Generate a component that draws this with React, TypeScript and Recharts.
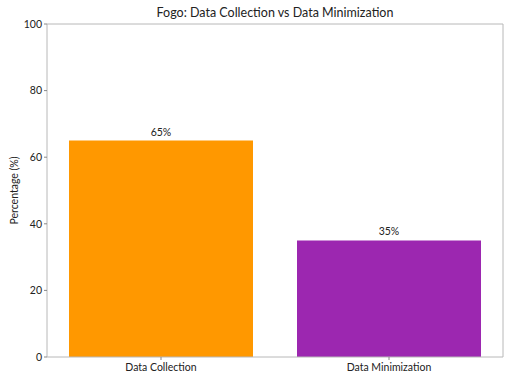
import React from 'react';
import { BarChart, Bar, XAxis, YAxis, Cell, LabelList, ReferenceLine } from 'recharts';

const categories = ['Data Collection', 'Data Minimization'];
const values = [65, 35];
const colors = ['#FF9800', '#9C27B0'];
const yTicks = [0, 20, 40, 60, 80, 100];

const data = categories.map((c, i) => ({ name: c, value: values[i] }));

const FONT = 'Lato, "Open Sans", sans-serif';
const AX = '#b8b8b8';

export default function App() {
  return (
    <div style={{ position: 'absolute', left: 0, top: 0, width: 512, height: 384, background: '#fff', fontFamily: FONT }}>
      <div style={{ position: 'absolute', top: 5, left: 47, width: 456, textAlign: 'center', fontSize: 12.5, color: '#222' }}>
        Fogo: Data Collection vs Data Minimization
      </div>
      <BarChart width={512} height={384} data={data} margin={{ top: 24, right: 8, bottom: 7, left: 0 }} barCategoryGap={22}>
        <XAxis
          dataKey="name"
          height={20}
          stroke={AX}
          tick={{ fill: '#222', fontSize: 10.5, fontFamily: FONT }}
          tickSize={3}
          tickMargin={4}
          tickLine={{ stroke: '#888' }}
        />
        <YAxis
          domain={[0, 100]}
          ticks={yTicks}
          width={47}
          stroke={AX}
          tick={{ fill: '#222', fontSize: 10.5, fontFamily: FONT }}
          tickSize={3}
          tickLine={{ stroke: '#888' }}
          label={{ value: 'Percentage (%)', angle: -90, position: 'insideLeft', offset: 14, style: { textAnchor: 'middle', fill: '#222', fontSize: 10.5, fontFamily: FONT } }}
        />
        <YAxis yAxisId="r" orientation="right" width={1} tick={false} tickLine={false} stroke={AX} />
        <ReferenceLine y={100} stroke={AX} />
        <Bar dataKey="value" isAnimationActive={false}>
          {data.map((d, i) => (
            <Cell key={d.name} fill={colors[i]} />
          ))}
          <LabelList dataKey="value" position="top" offset={5} formatter={(v: number) => `${v}%`} style={{ fill: '#222', fontSize: 10.5, fontFamily: FONT }} />
        </Bar>
      </BarChart>
    </div>
  );
}
